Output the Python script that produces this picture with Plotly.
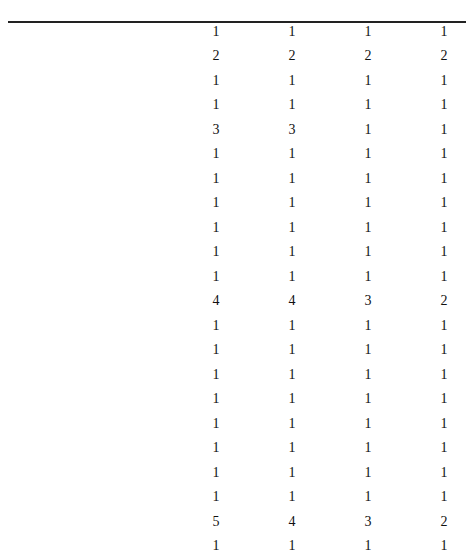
import plotly.graph_objects as go

# Table data
cases = ["1: BULGARIA", "2: CHINA", "3: HUNGARY", "4: INDONESIA", "5: INDIA",
         "6: LITHUANIA", "7: MALAYSIA", "8: POLAND", "9: ROMANIA", "10: TURKEY",
         "11: THAILAND", "12: BRAZIL", "13: CHILE", "14: COLOMBIA",
         "15: CZECH REPUBLIC", "16: EGYPT", "17: GREECE", "18: SOUTH AFRICA",
         "19: LATVIA", "20: SLOVAK REPUBLIC", "21: KOREA REPUBLIC", "22: ESTONIA"]
headers = ["5 Clusters", "4 Clusters", "3 Clusters", "2 Clusters"]
c5 = [1, 2, 1, 1, 3, 1, 1, 1, 1, 1, 1, 4, 1, 1, 1, 1, 1, 1, 1, 1, 5, 1]
c4 = [1, 2, 1, 1, 3, 1, 1, 1, 1, 1, 1, 4, 1, 1, 1, 1, 1, 1, 1, 1, 4, 1]
c3 = [1, 2, 1, 1, 1, 1, 1, 1, 1, 1, 1, 3, 1, 1, 1, 1, 1, 1, 1, 1, 3, 1]
c2 = [1, 2, 1, 1, 1, 1, 1, 1, 1, 1, 1, 2, 1, 1, 1, 1, 1, 1, 1, 1, 2, 1]
columns = [c5, c4, c3, c2]

col_x = [208, 284, 360, 436]
row_y = [24 + 24.5 * i for i in range(len(cases))]
font = dict(family="Liberation Serif", size=14, color="#111")

fig = go.Figure()
fig.add_trace(go.Scatter(x=[-8] * len(cases), y=row_y, text=cases, mode="text",
                         textposition="middle right", textfont=font, cliponaxis=False))
for x, vals in zip(col_x, columns):
    fig.add_trace(go.Scatter(x=[x] * len(vals), y=row_y, text=[str(v) for v in vals],
                             mode="text", textposition="middle center", textfont=font,
                             cliponaxis=False))

# header row
fig.add_trace(go.Scatter(x=[-8], y=[-2], text=["Case"], mode="text",
                         textposition="middle right", textfont=font, cliponaxis=False))
fig.add_trace(go.Scatter(x=col_x, y=[-2] * 4, text=headers, mode="text",
                         textposition="middle center", textfont=font, cliponaxis=False))
fig.add_shape(type="line", xref="paper", yref="paper", x0=0, x1=1,
              y0=1 - 14 / 555, y1=1 - 14 / 555, line=dict(color="#222", width=2))

fig.update_layout(width=474, height=555, margin=dict(l=0, r=0, t=0, b=0),
                  showlegend=False, plot_bgcolor="white", paper_bgcolor="white")
fig.update_xaxes(range=[0, 474], visible=False)
fig.update_yaxes(range=[555, 0], visible=False)
fig.write_html("out.html")
